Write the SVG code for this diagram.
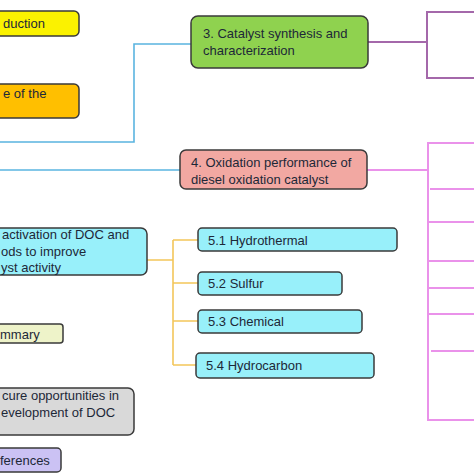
<svg xmlns="http://www.w3.org/2000/svg" width="474" height="474" viewBox="0 0 474 474">
<style>
.box{stroke:#3a3a3a;stroke-width:1.5}
.t{font-family:"Liberation Sans",Arial,sans-serif;font-size:13px;fill:#1d2838}
.c{fill:none;stroke-width:1.6}
.blue{stroke:#5ab4e0}
.purple{stroke:#a468aa;stroke-width:2}
.mag{stroke:#ea92ea;stroke-width:2}
.org{stroke:#f3c65a}
</style>
<rect width="474" height="474" fill="#ffffff"/>
<g id="connectors">
<polyline class="c blue" points="0,142 134,142 134,44 191,44"/>
<line class="c blue" x1="0" y1="170" x2="180" y2="170"/>
<line class="c purple" x1="368" y1="42" x2="427" y2="42"/>
<path class="c purple" d="M474,12 H427 V78 H474"/>
<line class="c mag" x1="367" y1="170" x2="428" y2="170"/>
<path class="c mag" d="M474,143 H428 V420 H474"/>
<path class="c mag" d="M430,189 H474 M428,222 H474 M428,261 H474 M428,288 H474 M428,314 H474 M431,351 H474"/>
<path class="c org" d="M147,260 H173 M173,240 V365 M173,240 H198 M173,283 H198 M173,321 H198 M173,365 H196"/>
</g>
<g id="n1"><rect class="box" x="-10" y="11" width="89" height="25" rx="5" fill="#fbf200"/><text class="t" x="3" y="28">duction</text></g>
<g id="n2"><rect class="box" x="-10" y="84" width="89" height="34" rx="5" fill="#ffbf00"/><text class="t" x="3" y="98">e of the</text></g>
<g id="n3"><rect class="box" x="191" y="16" width="177" height="52" rx="7" fill="#8fd24f"/><text class="t" x="203" y="37.5">3. Catalyst synthesis and</text><text class="t" x="203" y="54.5">characterization</text></g>
<g id="n4"><rect class="box" x="180" y="150" width="187" height="39" rx="6" fill="#f2a8a2"/><text class="t" x="191" y="166.5">4. Oxidation performance of</text><text class="t" x="191" y="183.5">diesel oxidation catalyst</text></g>
<g id="n5"><rect class="box" x="-10" y="228" width="157" height="47" rx="6" fill="#98f0fa"/><text class="t" x="2" y="238.5">activation of DOC and</text><text class="t" x="1" y="255.5">ods to improve</text><text class="t" x="1" y="271.5">yst activity</text></g>
<g id="n51"><rect class="box" x="198" y="228" width="199" height="23" rx="4" fill="#98f0fa"/><text class="t" x="208" y="244.5">5.1 Hydrothermal</text></g>
<g id="n52"><rect class="box" x="198" y="272" width="144" height="23" rx="4" fill="#98f0fa"/><text class="t" x="208" y="287.5">5.2 Sulfur</text></g>
<g id="n53"><rect class="box" x="198" y="310" width="164" height="23" rx="4" fill="#98f0fa"/><text class="t" x="208" y="325.5">5.3 Chemical</text></g>
<g id="n54"><rect class="box" x="196" y="353" width="178" height="25" rx="4" fill="#98f0fa"/><text class="t" x="206" y="369.5">5.4 Hydrocarbon</text></g>
<g id="n6"><rect class="box" x="-10" y="324" width="73" height="19" rx="3" fill="#eef3c9"/><text class="t" x="0" y="338.5">mmary</text></g>
<g id="n7"><rect class="box" x="-10" y="388" width="144" height="47" rx="6" fill="#d9d9d9"/><text class="t" x="2" y="399.5">cure opportunities in</text><text class="t" x="1" y="416.5">evelopment of DOC</text></g>
<g id="n8"><rect class="box" x="-10" y="448" width="71" height="24" rx="4" fill="#cbc2f4"/><text class="t" x="0" y="464.5">ferences</text></g>
</svg>
